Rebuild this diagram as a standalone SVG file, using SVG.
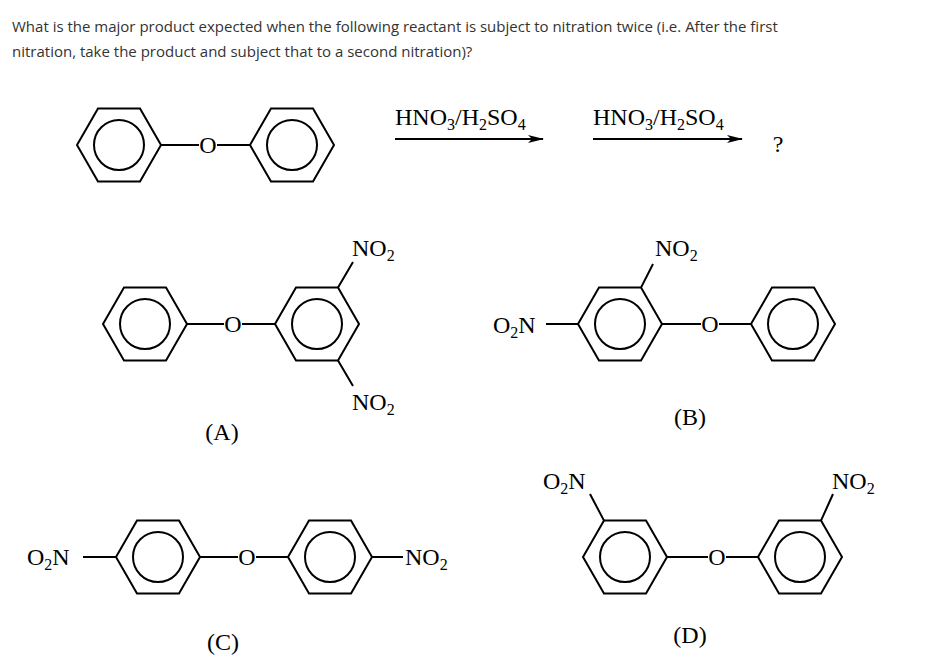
<svg xmlns="http://www.w3.org/2000/svg" xmlns:xlink="http://www.w3.org/1999/xlink" width="927" height="672" viewBox="0 0 927 672">
<style>
.b{stroke:#000;stroke-width:2;fill:none}
.t{font-family:"Liberation Serif",serif;font-size:24px;fill:#000}
.s{font-size:16px}
.q{font-family:"Open Sans",sans-serif;font-size:15px;fill:#333}
</style>
<defs>
<g id="ring"><polygon class="b" points="-42,0 -21,-36.4 21,-36.4 42,0 21,36.4 -21,36.4"/><circle class="b" r="25"/></g>
<marker id="ah" markerWidth="16" markerHeight="8" refX="15" refY="4" orient="auto" markerUnits="userSpaceOnUse"><path d="M0,0 L16,4 L0,8 L4,4 Z" fill="#000"/></marker>
</defs>
<rect width="927" height="672" fill="#fff"/>
<text class="q" x="12" y="32">What is the major product expected when the following reactant is subject to nitration twice (i.e. After the first</text>
<text class="q" x="12" y="57">nitration, take the product and subject that to a second nitration)?</text>

<g id="reactant">
<use xlink:href="#ring" x="119" y="145"/><use xlink:href="#ring" x="292" y="145"/>
<text class="t" x="208" y="153" text-anchor="middle">O</text>
</g>
<g id="connectors">
<path class="b" d="M161,145H199M217,145H250"/>
<path class="b" d="M395,139H543" marker-end="url(#ah)"/>
<path class="b" d="M593,139H742" marker-end="url(#ah)"/>
<path class="b" d="M187,324H224M242,324H275"/>
<path class="b" d="M338,287.6L353,262M338,360.4L353,386"/>
<path class="b" d="M546,324H578M641,287.6L653,264M662,324H701M719,324H751"/>
<path class="b" d="M83,557H116M200,557H238M256,557H288M372,557H403"/>
<path class="b" d="M604,520.6L590,494M667,557H708M726,557H758M821,520.6L833,494"/>
</g>
<g id="reagents">
<text class="t" x="395" y="125">HNO<tspan class="s" dy="5">3</tspan><tspan dy="-5">/H</tspan><tspan class="s" dy="5">2</tspan><tspan dy="-5">SO</tspan><tspan class="s" dy="5">4</tspan></text>
<text class="t" x="593" y="125">HNO<tspan class="s" dy="5">3</tspan><tspan dy="-5">/H</tspan><tspan class="s" dy="5">2</tspan><tspan dy="-5">SO</tspan><tspan class="s" dy="5">4</tspan></text>
<text class="t" x="778" y="152" text-anchor="middle">?</text>
</g>
<g id="A">
<use xlink:href="#ring" x="145" y="324"/><use xlink:href="#ring" x="317" y="324"/>
<text class="t" x="233" y="332" text-anchor="middle">O</text>
<text class="t" x="352" y="256">NO<tspan class="s" dy="5">2</tspan></text>
<text class="t" x="352" y="410">NO<tspan class="s" dy="5">2</tspan></text>
<text class="t" x="222" y="440" text-anchor="middle">(A)</text>
</g>
<g id="B">
<use xlink:href="#ring" x="620" y="324"/><use xlink:href="#ring" x="793" y="324"/>
<text class="t" x="710" y="332" text-anchor="middle">O</text>
<text class="t" x="493" y="333">O<tspan class="s" dy="5">2</tspan><tspan dy="-5">N</tspan></text>
<text class="t" x="655" y="256">NO<tspan class="s" dy="5">2</tspan></text>
<text class="t" x="690" y="425" text-anchor="middle">(B)</text>
</g>
<g id="C">
<use xlink:href="#ring" x="158" y="557"/><use xlink:href="#ring" x="330" y="557"/>
<text class="t" x="247" y="565" text-anchor="middle">O</text>
<text class="t" x="27" y="565">O<tspan class="s" dy="5">2</tspan><tspan dy="-5">N</tspan></text>
<text class="t" x="405" y="565">NO<tspan class="s" dy="5">2</tspan></text>
<text class="t" x="223" y="650" text-anchor="middle">(C)</text>
</g>
<g id="D">
<use xlink:href="#ring" x="625" y="557"/><use xlink:href="#ring" x="800" y="557"/>
<text class="t" x="717" y="565" text-anchor="middle">O</text>
<text class="t" x="543" y="489">O<tspan class="s" dy="5">2</tspan><tspan dy="-5">N</tspan></text>
<text class="t" x="832" y="489">NO<tspan class="s" dy="5">2</tspan></text>
<text class="t" x="690" y="643" text-anchor="middle">(D)</text>
</g>
</svg>
